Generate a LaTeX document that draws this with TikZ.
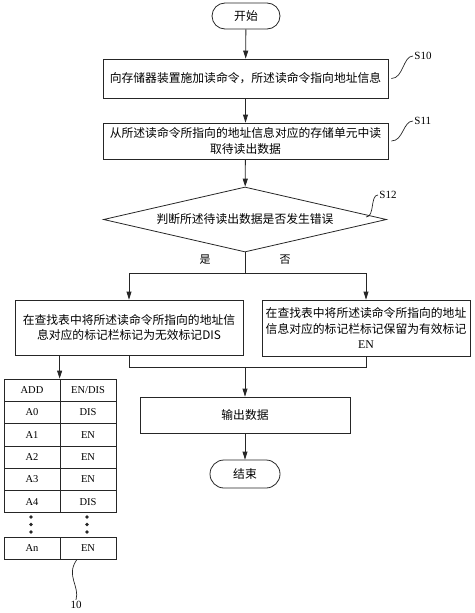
\documentclass[tikz,border=0pt]{standalone}
\usepackage{fontspec}
\setmainfont{Liberation Serif}
\newfontfamily\cjk{Noto Sans CJK SC}
\usetikzlibrary{shapes.geometric,shapes.misc,arrows.meta,calc}
\begin{document}
\begin{tikzpicture}[x=1pt,y=-1pt,
  line width=0.8pt,
  box/.style={draw=black!85, rectangle, inner sep=0pt, align=center, font=\cjk\fontsize{11.8}{15.5}\selectfont},
  term/.style={draw=black!85, rounded rectangle, minimum width=68pt, minimum height=26pt, inner sep=0pt, font=\cjk\fontsize{11.8}{14}\selectfont},
  arr/.style={draw=black!85, -{Triangle[length=8pt,width=5pt]}},
  conn/.style={draw=black!85},
  cell/.style={draw=black!85, rectangle, minimum width=56pt, minimum height=22.3pt, inner sep=0pt, font=\fontsize{10.5}{12}\selectfont},
  lbl/.style={inner sep=1pt, font=\fontsize{11}{13}\selectfont},
  clbl/.style={inner sep=1pt, font=\cjk\fontsize{11}{13}\selectfont},
  ]
\useasboundingbox (0,0) rectangle (474,613);

\node[term] (start) at (246,16) {开始};
\node[box, minimum width=285pt, minimum height=39pt] (s10) at (245.5,78.5) {向存储器装置施加读命令，所述读命令指向地址信息};
\node[box, minimum width=285pt, minimum height=36pt] (s11) at (245.5,141) {从所述读命令所指向的地址信息对应的存储单元中读\\取待读出数据};
\node[draw=black!85, diamond, aspect=4.35, minimum width=283pt, minimum height=65pt, inner sep=0pt, font=\cjk\fontsize{11.8}{14}\selectfont] (dec) at (245,219.5) {判断所述待读出数据是否发生错误};
\node[box, minimum width=228pt, minimum height=55pt] (yes) at (129,327.5) {在查找表中将所述读命令所指向的地址信\\息对应的标记栏标记为无效标记DIS};
\node[box, minimum width=208pt, minimum height=56pt] (no) at (366,328) {在查找表中将所述读命令所指向的地址\\信息对应的标记栏标记保留为有效标记\\{\rmfamily EN}};
\node[box, minimum width=210pt, minimum height=36pt] (out) at (245,415) {输出数据};
\node[term, minimum width=70pt, minimum height=28pt] (end) at (245,474) {结束};

\node[lbl, anchor=west] (l10) at (413,56) {S10};
\node[lbl, anchor=west] (l11) at (413,121) {S11};
\node[lbl, anchor=west] (l12) at (378,195) {S12};
\node[clbl] (yesl) at (205,260) {是};
\node[clbl] (nol) at (285,260) {否};

% table
\node[cell] (a0) at (32,390.15) {ADD};
\node[cell] (v0) at (88,390.15) {EN/DIS};
\node[cell] (a1) at (32,412.45) {A0};
\node[cell] (v1) at (88,412.45) {DIS};
\node[cell] (a2) at (32,434.75) {A1};
\node[cell] (v2) at (88,434.75) {EN};
\node[cell] (a3) at (32,457.05) {A2};
\node[cell] (v3) at (88,457.05) {EN};
\node[cell] (a4) at (32,479.35) {A3};
\node[cell] (v4) at (88,479.35) {EN};
\node[cell] (a5) at (32,501.65) {A4};
\node[cell] (v5) at (88,501.65) {DIS};
\node[cell] (an) at (32,548.4) {An};
\node[cell] (vn) at (88,548.4) {EN};
\foreach \yy in {517,524.5,532} {
  \fill[black!85] (31,\yy) circle (1.8);
  \fill[black!85] (87,\yy) circle (1.8);
}
\node[lbl] (l10t) at (76,605) {10};

% connectors
\draw[arr] (start) -- (s10);
\draw[arr] (s10) -- (s11);
\draw[arr] (s11) -- (dec);
\coordinate (split) at (245,273);
\draw[conn] (dec.south) -- (split);
\draw[arr] (split) -| (yes.north);
\draw[arr] (split) -| (no.north);
\coordinate (merge) at (245,367);
\draw[conn] (yes.south) |- (merge);
\draw[conn] (no.south) |- (merge);
\draw[arr] (merge) -- (out);
\draw[arr] (out) -- (end);
\draw[arr] (yes.south -| v0.west) -- (v0.north west);

% squiggles
\draw[conn, line width=0.7pt] ([xshift=3pt]s10.east) .. controls +(12,0) and +(-10,0) .. (l10.west);
\draw[conn, line width=0.7pt] ([xshift=3pt]s11.east) .. controls +(12,0) and +(-10,0) .. (l11.west);
\coordinate (s12a) at (366,217);
\draw[conn, line width=0.7pt] (s12a) .. controls +(9,0) and +(-8,0) .. (l12.west);
\draw[conn, line width=0.7pt] ([xshift=17pt]vn.south west) .. controls +(-11,16) and +(4,-14) .. (l10t.north);
\end{tikzpicture}
\end{document}
